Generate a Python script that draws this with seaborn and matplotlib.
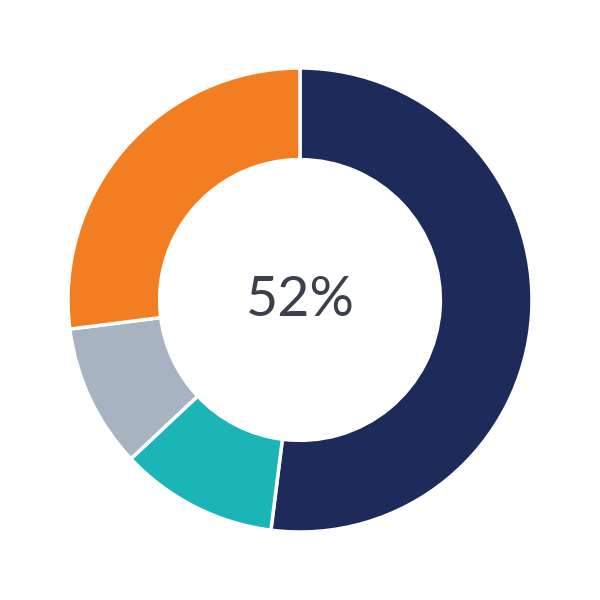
import matplotlib
matplotlib.use("Agg")
import matplotlib.pyplot as plt
import seaborn as sns

labels = ["Navy", "Teal", "Gray", "Orange"]
values = [52, 11, 10, 27]
colors = ["#1c2b5a", "#1bb5b8", "#a8b3c1", "#f37e21"]
center_text = "52%"

sns.set_theme(style="white")
plt.rcParams['font.family'] = ['Lato', 'DejaVu Sans']

fig = plt.figure(figsize=(6, 6), dpi=100)
ax = fig.add_axes([0, 0, 1, 1])
ax.pie(values, colors=colors, startangle=90, counterclock=False, radius=1,
       wedgeprops=dict(width=0.395, edgecolor="white", linewidth=2.5))
ax.text(0, 0, center_text, ha="center", va="center", fontsize=40,
        color="#3b404c", fontweight="normal")
lim = 300 / 232
ax.set_xlim(-lim, lim)
ax.set_ylim(-lim, lim)
ax.set_aspect("equal")
ax.axis("off")
fig.savefig("out.png", dpi=100, facecolor="white")
